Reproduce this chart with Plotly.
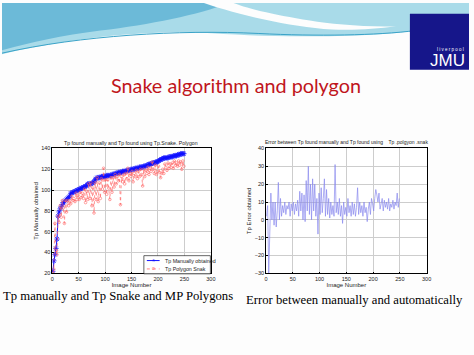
import re
import plotly.graph_objects as go

W, H = 474, 355

# ---------------- data ----------------
image_number = list(range(1, 250, 2))

tp_manual = [22, 32, 38, 44, 53, 75, 79, 82, 84, 86, 88, 89, 90, 91, 92, 93, 94, 97, 97, 98,
             98, 99, 99, 100, 100, 101, 101, 102, 102, 103, 103, 104, 104, 106, 106, 106, 106, 107, 107, 108,
             110, 111, 112, 112, 112, 112, 113, 113, 113, 113, 113, 114, 114, 114, 114, 114, 115, 115, 115, 116,
             116, 116, 117, 117, 117, 117, 118, 118, 118, 118, 119, 119, 119, 119, 120, 120, 120, 120, 121, 121,
             121, 121, 122, 122, 122, 122, 123, 123, 123, 124, 124, 125, 125, 125, 126, 126, 126, 127, 127, 127,
             128, 129, 129, 130, 130, 131, 131, 131, 131, 131, 132, 132, 132, 132, 133, 133, 133, 133, 134, 134,
             134, 135, 135, 135, 135]

tp_polygon = [20, 24, 68, 42, 38, 75, 69, 85, 74, 90, 83, 68, 90, 79, 90, 85, 90, 87, 94, 90,
              92, 89, 97, 91, 95, 91, 98, 93, 97, 92, 101, 88, 99, 91, 106, 92, 107, 85, 102, 78,
              107, 91, 112, 89, 107, 92, 111, 101, 121, 98, 110, 96, 110, 102, 91, 112, 98, 112, 103, 115,
              106, 113, 109, 115, 86, 113, 108, 115, 106, 116, 111, 121, 109, 116, 113, 118, 108, 116, 113, 119,
              111, 118, 113, 120, 115, 104, 120, 113, 119, 116, 122, 115, 121, 118, 127, 120, 116, 124, 115, 118,
              123, 117, 112, 116, 120, 116, 125, 122, 119, 126, 121, 125, 122, 126, 121, 128, 124, 126, 123, 128,
              124, 127, 120, 128, 123]

tp_error = [2, 8, -30, 2, 15, 0, 10, -3, 10, -4, 5, 21, 0, 12, 2, 8, 4, 10, 3, 8,
            6, 10, 2, 9, 5, 10, 3, 9, 5, 11, 2, 16, 5, 15, 0, 14, -1, 22, 5, 30,
            3, 20, 0, 23, 5, 20, 2, 12, -8, 15, 3, 18, 4, 12, 23, 2, 17, 3, 12, 1,
            10, 3, 8, 2, 31, 4, 10, 3, 12, 2, 8, -2, 10, 3, 7, 2, 12, 4, 8, 2,
            10, 3, 9, 2, 7, 18, 3, 10, 4, 8, 2, 10, 4, 7, -1, 6, 10, 3, 12, 9,
            5, 12, 17, 14, 10, 15, 6, 9, 12, 5, 11, 7, 10, 6, 12, 5, 9, 7, 11, 6,
            10, 8, 15, 7, 12]

series_names = ['Tp Manually obtained', 'Tp Polygon Snak']
x_ticks = [0, 50, 100, 150, 200, 250, 300]
y_ticks_left = [20, 40, 60, 80, 100, 120, 140]
y_ticks_right = [-30, -20, -10, 0, 10, 20, 30, 40]

BLUE = '#1010ff'
RED = '#ff6464'

# ---------------- helpers ----------------
def px_path(s):
    return re.sub(r'(-?[\d.]+),(-?[\d.]+)',
                  lambda m: f"{float(m.group(1))/W:.4f},{1-float(m.group(2))/H:.4f}", s)

def fx(x):
    return x / W

def fy(y):
    return 1 - y / H

fig = go.Figure()

fig.add_trace(go.Scatter(
    x=image_number, y=tp_manual, mode='lines+markers', name=series_names[0], showlegend=False,
    line=dict(color=BLUE, width=1),
    marker=dict(symbol='asterisk-open', size=4.5, color=BLUE, line=dict(width=0.8, color=BLUE)),
    xaxis='x', yaxis='y'))
fig.add_trace(go.Scatter(
    x=image_number, y=tp_polygon, mode='lines+markers', name=series_names[1], showlegend=False,
    line=dict(color=RED, width=0.7, dash='dot'),
    marker=dict(symbol='circle-open', size=2.6, color=RED, line=dict(width=0.6, color=RED)),
    xaxis='x', yaxis='y'))
fig.add_trace(go.Scatter(
    x=image_number, y=tp_error, mode='lines', name='error', showlegend=False,
    line=dict(color='#8a8aee', width=0.7),
    xaxis='x2', yaxis='y2'))

axis_common = dict(showline=True, linecolor='black', linewidth=0.6, mirror=True,
                   ticks='inside', ticklen=2, tickwidth=0.5, tickcolor='black',
                   showgrid=True, gridcolor='#cdcdcd', gridwidth=0.5, zeroline=False,
                   tickfont=dict(size=5.5, color='#222', family='Liberation Sans'))

ydom = [fy(275), fy(148)]
fig.update_layout(
    width=W, height=H, autosize=False,
    margin=dict(l=0, r=0, t=0, b=0),
    paper_bgcolor='#fdfdfd', plot_bgcolor='white',
    font=dict(family='Liberation Sans'),
    showlegend=False,
    xaxis=dict(domain=[fx(51), fx(212)], range=[0, 300], tickvals=x_ticks, anchor='y',
               title=dict(text='Image Number', font=dict(size=6, color='#222'), standoff=1), **axis_common),
    yaxis=dict(domain=ydom, range=[20, 140], tickvals=y_ticks_left, anchor='x',
               title=dict(text='Tp Manually obtained', font=dict(size=6, color='#222'), standoff=2), **axis_common),
    xaxis2=dict(domain=[fx(268), fx(431)], range=[0, 300], tickvals=x_ticks, anchor='y2',
                title=dict(text='Image Number', font=dict(size=6, color='#222'), standoff=1), **axis_common),
    yaxis2=dict(domain=ydom, range=[-30, 40], tickvals=y_ticks_right, anchor='x2',
                title=dict(text='Tp Error obtained', font=dict(size=6, color='#222'), standoff=2), **axis_common),
)

shapes = [
    dict(type='path', xref='paper', yref='paper', layer='below', line=dict(width=0),
         fillcolor='#a9dbe9',
         path=px_path('M 0,0 L 474,0 L 474,12 C 440,25 420,30 380,32 C 300,36 250,33 200,30 C 130,28 60,38 0,52 Z')),
    dict(type='path', xref='paper', yref='paper', layer='below', line=dict(width=0),
         fillcolor='#6cbad8',
         path=px_path('M 0,0 L 230,0 C 200,12 150,22 100,28 C 60,33 30,40 0,48 Z')),
    dict(type='path', xref='paper', yref='paper', layer='below', line=dict(width=0),
         fillcolor='#fdfdfd',
         path=px_path('M 205,0 C 240,12 290,24 335,27 C 360,28 380,26 400,24 C 370,24 340,22 320,19 C 280,13 250,6 235,0 Z')),
    dict(type='path', xref='paper', yref='paper', layer='below', line=dict(width=1, color='#3aa3c8'),
         path=px_path('M 0,51 C 80,33 180,27 260,31 C 320,34 380,33 420,28')),
    dict(type='rect', xref='paper', yref='paper', layer='above', line=dict(width=0),
         fillcolor='#16168a', x0=fx(414), x1=1.0, y0=fy(68), y1=fy(11)),
    # legend box
    dict(type='rect', xref='paper', yref='paper', layer='above', line=dict(width=0.6, color='black'),
         fillcolor='white', x0=fx(144), x1=fx(211.5), y0=fy(275.5), y1=fy(257)),
    dict(type='line', xref='paper', yref='paper', layer='above', line=dict(width=1, color=BLUE),
         x0=fx(147), x1=fx(160), y0=fy(262), y1=fy(262)),
    dict(type='line', xref='paper', yref='paper', layer='above', line=dict(width=0.8, color=RED, dash='dot'),
         x0=fx(147), x1=fx(160), y0=fy(270.5), y1=fy(270.5)),
]
fig.update_layout(shapes=shapes)

ann = [
    dict(text='Snake algorithm and polygon', x=fx(237), y=fy(83), font=dict(size=19.8, color='#c0151c', family='Lato')),
    dict(text='Tp found manually and Tp found using Tp.Snake. Polygon', x=fx(131), y=fy(142),
         font=dict(size=5.2, color='#222')),
    dict(text='Error between Tp found manually and Tp found using    Tp .polgyon .snak', x=fx(350), y=fy(141.5),
         font=dict(size=5.0, color='#222')),
    dict(text='Tp manually and Tp Snake and MP Polygons', x=fx(118), y=fy(298),
         font=dict(size=12.7, color='black', family='Liberation Serif')),
    dict(text='Error between manually and automatically', x=fx(358), y=fy(302),
         font=dict(size=12.7, color='black', family='Liberation Serif')),
    dict(text='JMU', x=fx(452), y=fy(58), font=dict(size=17, color='white', family='Liberation Sans')),
    dict(text='l i v e r p o o l', x=fx(455), y=fy(47), font=dict(size=4.5, color='white', family='Liberation Sans')),
    # legend texts and glyphs
    dict(text='*', x=fx(153.5), y=fy(263), font=dict(size=8, color=BLUE)),
    dict(text='o', x=fx(153.5), y=fy(270), font=dict(size=5, color=RED)),
    dict(text=series_names[0], x=fx(163), y=fy(262), xanchor='left', font=dict(size=5.3, color='#222')),
    dict(text=series_names[1], x=fx(163), y=fy(270.5), xanchor='left', font=dict(size=5.3, color='#222')),
]
for a in ann:
    a.setdefault('xanchor', 'center')
    a.update(xref='paper', yref='paper', showarrow=False, yanchor='middle')
fig.update_layout(annotations=ann)

fig.write_html('out.html', config={'displayModeBar': False},
               post_script="document.body.style.margin='0';document.body.style.padding='0';"
                           "document.body.style.overflow='hidden';")
